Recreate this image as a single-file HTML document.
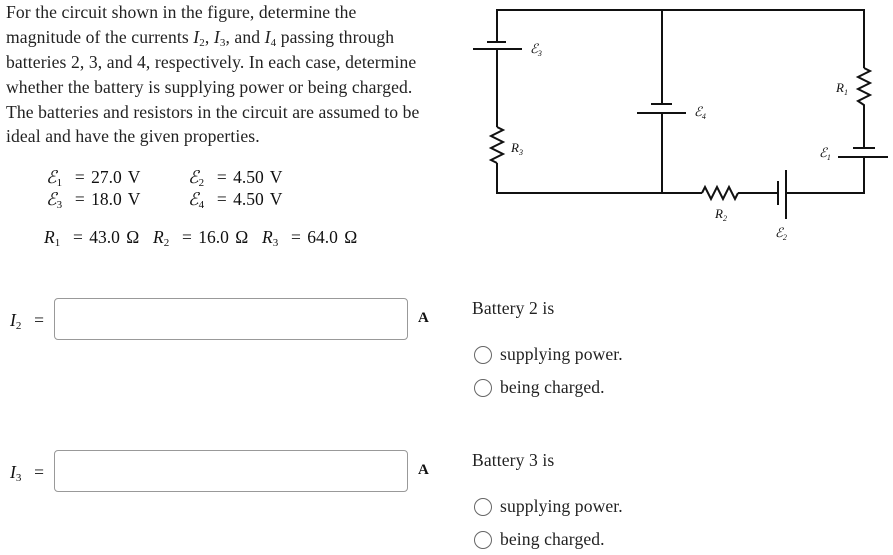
<!DOCTYPE html>
<html><head><style>
body{margin:0;width:893px;height:555px;background:#fff;position:relative;overflow:hidden;font-family:"Liberation Serif",serif;color:#222}
.t{position:absolute;white-space:nowrap;font-size:17.6px;letter-spacing:0.1px}
.m{position:absolute;white-space:nowrap;font-size:17.5px;color:#111;word-spacing:2px}
i{font-style:italic}
sub{font-size:11px;vertical-align:-3px}
.box{position:absolute;left:54px;width:352px;height:40px;border:1.5px solid #999;border-radius:4px}
.rc{position:absolute;width:16px;height:16px;border:1.5px solid #666;border-radius:50%}
</style></head><body>
<div class="t" style="left:6px;top:2px">For the circuit shown in the figure, determine the</div>
<div class="t" style="left:6px;top:27px">magnitude of the currents <i>I</i><sub>2</sub>, <i>I</i><sub>3</sub>, and <i>I</i><sub>4</sub> passing through</div>
<div class="t" style="left:6px;top:52px">batteries 2, 3, and 4, respectively. In each case, determine</div>
<div class="t" style="left:6px;top:77px">whether the battery is supplying power or being charged.</div>
<div class="t" style="left:6px;top:102px">The batteries and resistors in the circuit are assumed to be</div>
<div class="t" style="left:6px;top:126px">ideal and have the given properties.</div>

<div class="m" style="left:46px;top:167px"><i>ℰ</i><sub>1</sub> &nbsp;= 27.0 V</div>
<div class="m" style="left:188px;top:167px"><i>ℰ</i><sub>2</sub> &nbsp;= 4.50 V</div>
<div class="m" style="left:46px;top:189px"><i>ℰ</i><sub>3</sub> &nbsp;= 18.0 V</div>
<div class="m" style="left:188px;top:189px"><i>ℰ</i><sub>4</sub> &nbsp;= 4.50 V</div>
<div class="m" style="left:44px;top:227px"><i>R</i><sub>1</sub> &nbsp;= 43.0 Ω</div>
<div class="m" style="left:153px;top:227px"><i>R</i><sub>2</sub> &nbsp;= 16.0 Ω</div>
<div class="m" style="left:262px;top:227px"><i>R</i><sub>3</sub> &nbsp;= 64.0 Ω</div>

<div class="m" style="left:10px;top:310px"><i>I</i><sub>2</sub> &nbsp;=</div>
<div class="box" style="top:298px"></div>
<div class="m" style="left:418px;top:310px;font-weight:bold;font-size:15px">A</div>
<div class="m" style="left:10px;top:462px"><i>I</i><sub>3</sub> &nbsp;=</div>
<div class="box" style="top:450px"></div>
<div class="m" style="left:418px;top:462px;font-weight:bold;font-size:15px">A</div>

<div class="t" style="left:472px;top:298px">Battery 2 is</div>
<div class="rc" style="left:474px;top:346px"></div><div class="t" style="left:500px;top:344px">supplying power.</div>
<div class="rc" style="left:474px;top:379px"></div><div class="t" style="left:500px;top:377px">being charged.</div>
<div class="t" style="left:472px;top:450px">Battery 3 is</div>
<div class="rc" style="left:474px;top:498px"></div><div class="t" style="left:500px;top:496px">supplying power.</div>
<div class="rc" style="left:474px;top:531px"></div><div class="t" style="left:500px;top:529px">being charged.</div>

<svg style="position:absolute;left:0;top:0" width="893" height="555">
<g stroke="#111" stroke-width="2" fill="none">
<polyline points="497,42 497,10 864,10 864,68"/>
<line x1="662" y1="10" x2="662" y2="104"/>
<line x1="662" y1="113" x2="662" y2="193"/>
<line x1="497" y1="49" x2="497" y2="127"/>
<polyline points="497,127 503,130 491,136 503,142 491,148 503,154 491,160 497,163"/>
<polyline points="497,163 497,193 702,193"/>
<polyline points="702,193 705,187 711,199 717,187 723,199 729,187 735,199 738,193"/>
<line x1="738" y1="193" x2="778" y2="193"/>
<polyline points="786,193 864,193 864,157"/>
<polyline points="864,68 870,71 858,77 870,83 858,89 870,95 858,101 864,105 864,148"/>
<line x1="487" y1="42" x2="506" y2="42"/>
<line x1="473" y1="49" x2="522" y2="49"/>
<line x1="651" y1="104" x2="672" y2="104"/>
<line x1="637" y1="113" x2="686" y2="113"/>
<line x1="778" y1="181" x2="778" y2="205"/>
<line x1="786" y1="170" x2="786" y2="219"/>
<line x1="853" y1="148" x2="875" y2="148"/>
<line x1="838" y1="157" x2="888" y2="157"/>
</g>
<g font-family="Liberation Serif,serif" font-style="italic" font-size="13" fill="#111">
<text x="530" y="53">ℰ<tspan font-size="8" dy="3">3</tspan></text>
<text x="511" y="152">R<tspan font-size="8" dy="3">3</tspan></text>
<text x="694" y="116">ℰ<tspan font-size="8" dy="3">4</tspan></text>
<text x="715" y="218">R<tspan font-size="8" dy="3">2</tspan></text>
<text x="775" y="237">ℰ<tspan font-size="8" dy="3">2</tspan></text>
<text x="836" y="92">R<tspan font-size="8" dy="3">1</tspan></text>
<text x="819" y="157">ℰ<tspan font-size="8" dy="3">1</tspan></text>
</g>
</svg>
</body></html>
